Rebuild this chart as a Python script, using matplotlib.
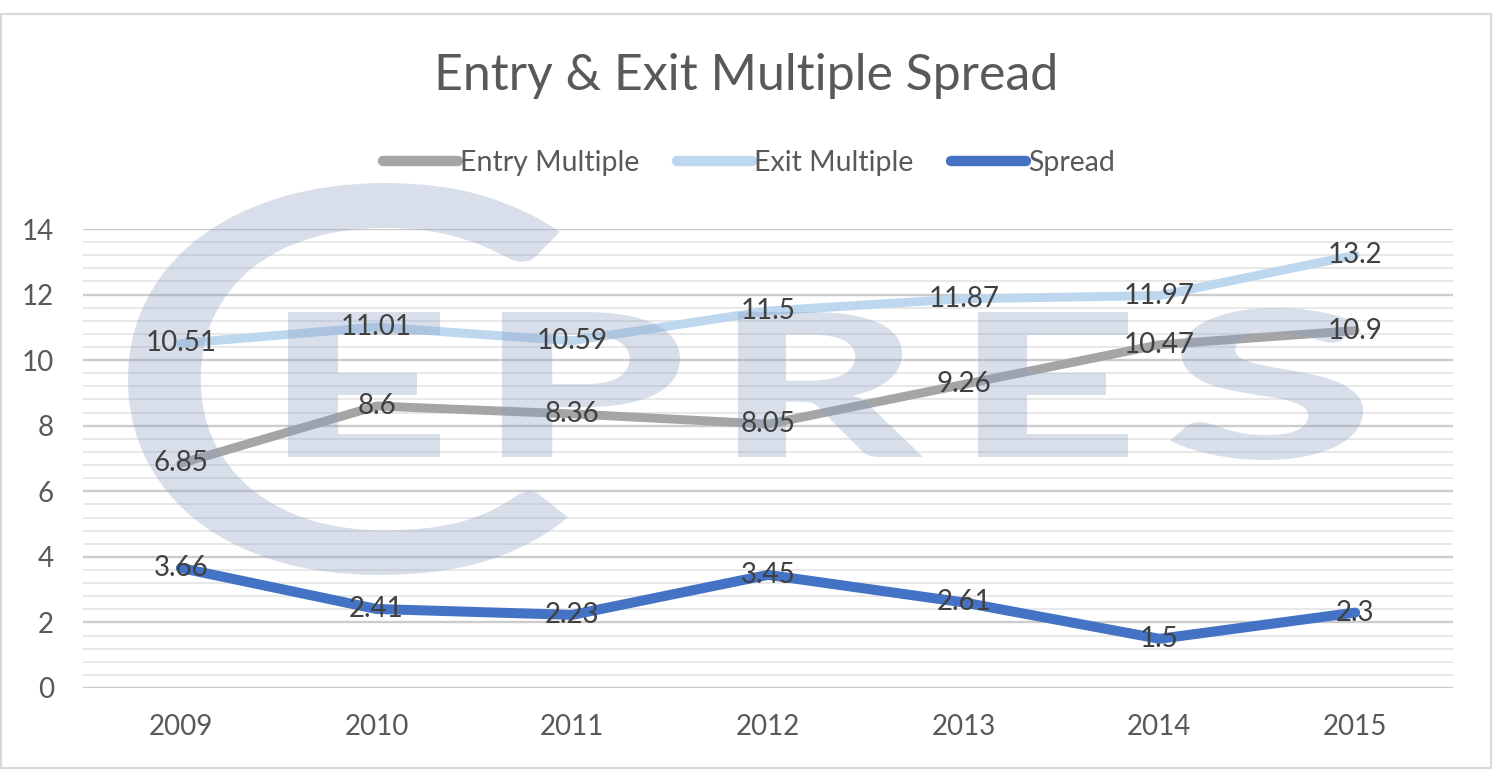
import matplotlib
matplotlib.use("Agg")
import matplotlib.pyplot as plt
import matplotlib.transforms as mtransforms
from matplotlib.textpath import TextPath
from matplotlib.patches import PathPatch, Rectangle
from matplotlib.font_manager import FontProperties
from matplotlib.lines import Line2D

# --- data ---
years = ["2009", "2010", "2011", "2012", "2013", "2014", "2015"]
entry_multiple = [6.85, 8.6, 8.36, 8.05, 9.26, 10.47, 10.9]
exit_multiple = [10.51, 11.01, 10.59, 11.5, 11.87, 11.97, 13.2]
spread = [3.66, 2.41, 2.23, 3.45, 2.61, 1.5, 2.3]

series_names = ["Entry Multiple", "Exit Multiple", "Spread"]
series_colors = ["#a5a5a5", "#bdd7ee", "#4472c4"]
series_widths = [6.4, 6.4, 7.2]

plt.rcParams["font.family"] = ["Lato", "DejaVu Sans"]

W, H = 1493, 782
fig = plt.figure(figsize=(W / 100, H / 100), dpi=100)
# pixel coords (origin bottom-left) -> figure
px = mtransforms.Affine2D().scale(1 / W, 1 / H) + fig.transFigure

# plot area: x 83..1453, y 229..688 (image px)
ax = fig.add_axes([83 / W, (H - 688) / H, (1453 - 83) / W, (688 - 229) / H])

x = list(range(len(years)))
for vals, name, col, lw in zip([entry_multiple, exit_multiple, spread],
                               series_names, series_colors, series_widths):
    ax.plot(x, vals, color=col, lw=lw, solid_capstyle="round",
            solid_joinstyle="round", label=name, zorder=2)
    for xi, v in zip(x, vals):
        ax.text(xi, v, f"{v:g}", ha="center", va="center", fontsize=20,
                color="#404040", zorder=4)

ax.set_xlim(-0.5, len(years) - 0.5)
ax.set_ylim(0, 14)
ax.set_xticks(x)
ax.set_xticklabels(years)
ax.set_yticks(range(0, 15, 2))
ax.set_yticks([i * 0.4 for i in range(36)], minor=True)
ax.tick_params(axis="both", which="both", length=0, labelsize=20, colors="#595959")
ax.tick_params(axis="y", pad=21)
ax.tick_params(axis="x", pad=19)
ax.grid(True, axis="y", which="major", color="#cccccc", lw=1.7)
ax.grid(True, axis="y", which="minor", color="#e8e8e8", lw=1.4)
ax.set_axisbelow(True)
for s in ax.spines.values():
    s.set_visible(False)
ax.patch.set_alpha(0)

# watermark "CEPRES" (letter boxes in image px: x0, top, x1, bottom)
wm_letters = ["C", "E", "P", "R", "E", "S"]
wm_weights = ["regular", "black", "black", "black", "black", "black"]
wm_boxes = [(128, 183, 568, 575), (288, 312, 440, 457), (502, 312, 680, 457),
            (738, 312, 923, 457), (978, 312, 1128, 457), (1170, 308, 1363, 460)]
for ch, wt, (x0, y0, x1, y1) in zip(wm_letters, wm_weights, wm_boxes):
    tp = TextPath((0, 0), ch, size=100, prop=FontProperties(family="Lato", weight=wt))
    ext = tp.get_extents()
    tr = (mtransforms.Affine2D().translate(-ext.x0, -ext.y0)
          .scale((x1 - x0) / ext.width, (y1 - y0) / ext.height)
          .translate(x0, H - y1))
    ax.add_artist(PathPatch(tr.transform_path(tp), transform=px, fc="#8da2c6",
                            ec="none", alpha=0.34, zorder=3, clip_on=False))

# title
fig.text(746 / W, 1 - 76 / H, "Entry & Exit Multiple Spread", ha="center",
         va="center", fontsize=36, color="#595959")

# legend
handles = [Line2D([], [], color=c, lw=7.5, solid_capstyle="round") for c in series_colors]
fig.legend(handles, series_names, loc="center", bbox_to_anchor=(749 / W, 1 - 163 / H),
           ncol=3, frameon=False, fontsize=20.5, labelcolor="#595959",
           handlelength=2.65, handletextpad=0.08, columnspacing=1.3)

# chart border
fig.add_artist(Rectangle((1, H - 768), 1490, 754, transform=px, fill=False,
                         ec="#d9d9d9", lw=1.5))

fig.savefig("out.png", dpi=100)
